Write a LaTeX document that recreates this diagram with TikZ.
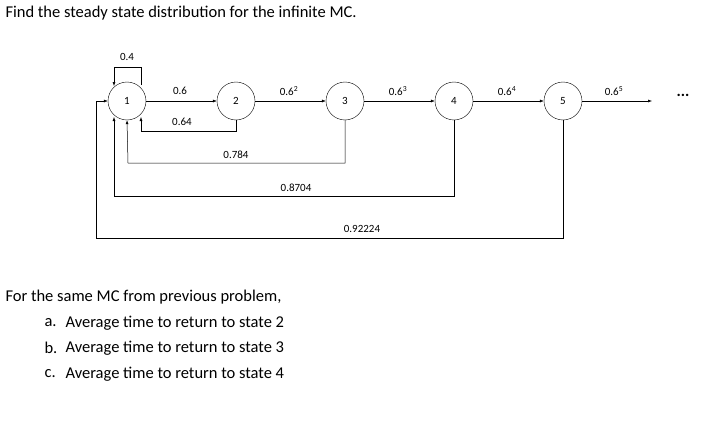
\documentclass[tikz,border=0pt]{standalone}
\usepackage{fontspec}
\setmainfont{Carlito}
\usetikzlibrary{arrows.meta}
\begin{document}
\begin{tikzpicture}[x=1pt,y=-1pt,
  st/.style={circle,draw,minimum size=38pt,inner sep=0pt,font=\fontsize{11}{12}\selectfont},
  lbl/.style={font=\fontsize{11}{12}\selectfont},
  big/.style={font=\fontsize{16.5}{20}\selectfont,anchor=west},
  ar/.style={-{Latex[length=4pt,width=3pt]},line width=0.5pt}]
\useasboundingbox (0,0) rectangle (716,423);
\node[big] (title) at (2,13) {Find the steady state distribution for the infinite MC.};
\node[st] (n1) at (127,101) {1};
\node[st] (n2) at (236,101) {2};
\node[st] (n3) at (345,101) {3};
\node[st] (n4) at (454,101) {4};
\node[st] (n5) at (563,101) {5};
\coordinate (end) at (652,101);
\node[font=\fontsize{16}{16}\selectfont\bfseries] (dots) at (683,95) {...};
\draw[ar] (n1) -- (n2);
\draw[ar] (n2) -- (n3);
\draw[ar] (n3) -- (n4);
\draw[ar] (n4) -- (n5);
\draw[ar] (n5) -- (end);
\draw[ar] (141,85) -- (141,67) -- (114,67) -- (114,86);
\draw[ar] (n2.south) |- (141,131) -- (141,117);
\draw[ar] (n3.south) |- (128,163) -- (n1.south);
\draw[ar] (n4.south) |- (114,196) -- (114,117);
\draw[ar] (n5.south) |- (96,238) |- (n1.west);
\node[lbl] (l0) at (127,57) {0.4};
\node[lbl] (l1) at (180,91) {0.6};
\node[lbl] (l2) at (289,91) {0.6\textsuperscript{2}};
\node[lbl] (l3) at (398,91) {0.6\textsuperscript{3}};
\node[lbl] (l4) at (507,91) {0.6\textsuperscript{4}};
\node[lbl] (l5) at (614,91) {0.6\textsuperscript{5}};
\node[lbl] (r2) at (182,122) {0.64};
\node[lbl] (r3) at (236,155) {0.784};
\node[lbl] (r4) at (296,188) {0.8704};
\node[lbl] (r5) at (362,229) {0.92224};
\node[big] (q) at (2,297) {For the same MC from previous problem,};
\node[big] (a) at (41,323) {a.};
\node[big] (at) at (62,323) {Average time to return to state 2};
\node[big] (b) at (41,348) {b.};
\node[big] (bt) at (62,348) {Average time to return to state 3};
\node[big] (c) at (41,374) {c.};
\node[big] (ct) at (62,374) {Average time to return to state 4};
\end{tikzpicture}
\end{document}
